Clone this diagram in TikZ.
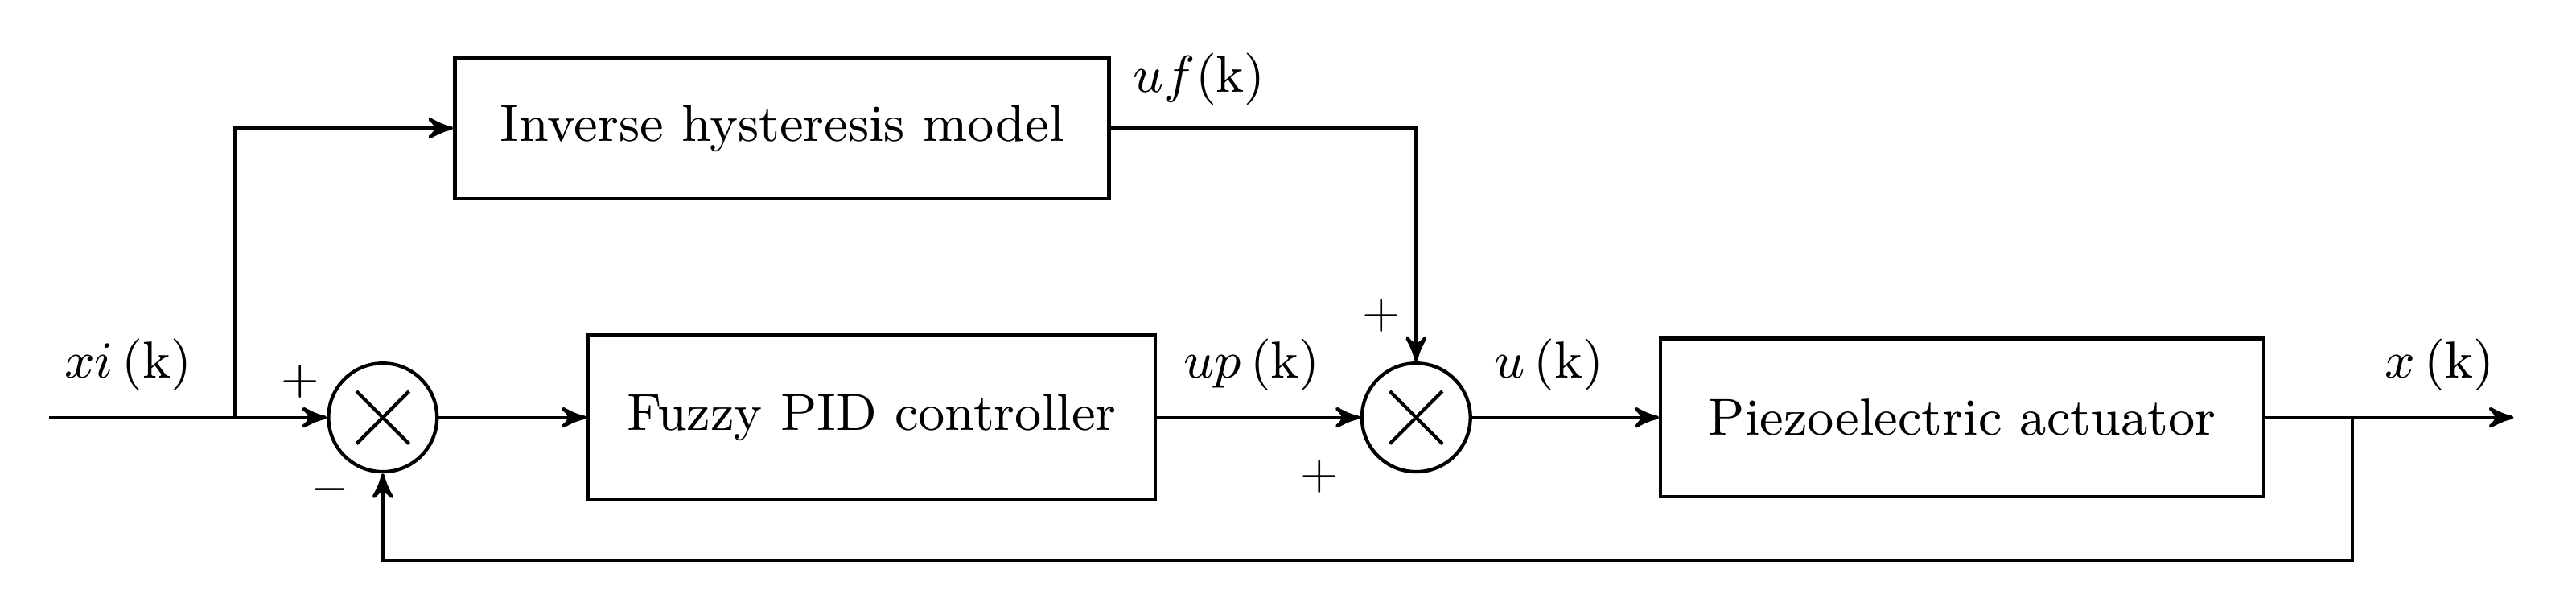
\documentclass[tikz,border=0pt]{standalone}
\usepackage{tikz}
\usetikzlibrary{positioning,shapes}
\usetikzlibrary{arrows}
\usepackage{amsmath}
\begin{document}
\begin{tikzpicture}[x=0.01cm,y=-0.01cm,>=stealth',font=\small,semithick]
	\tikzstyle{block} = [draw,shape=rectangle,fill=white,inner sep=0pt]
	\tikzstyle{sum} = [draw,shape=circle,minimum size=0.66cm,inner sep=0pt]
	\useasboundingbox (0,0) rectangle (1568,374);

	\node[block,minimum width=3.98cm,minimum height=0.86cm] (IHM) at (476,78) {Inverse hysteresis model};
	\node[block,minimum width=3.45cm,minimum height=1.0cm] (FPID) at (530.5,254) {Fuzzy PID controller};
	\node[block,minimum width=3.67cm,minimum height=0.96cm] (PA) at (1194.5,254) {Piezoelectric actuator};

	\node[sum] (S1) at (233,254) {};
	\node[sum] (S2) at (862,254) {};
	\draw ([shift={(-16,-16)}]S1.center) -- ([shift={(16,16)}]S1.center);
	\draw ([shift={(-16,16)}]S1.center) -- ([shift={(16,-16)}]S1.center);
	\draw ([shift={(-16,-16)}]S2.center) -- ([shift={(16,16)}]S2.center);
	\draw ([shift={(-16,16)}]S2.center) -- ([shift={(16,-16)}]S2.center);

	\coordinate (IN) at (30,254);
	\coordinate (B1) at (143,254);
	\coordinate (OUT) at (1530,254);
	\coordinate (B2) at (1432,254);

	\draw (IN) -- (B1);
	\draw [->] (B1) -- (S1);
	\draw [->] (B1) |- (IHM.west);
	\draw [->] (S1) -- (FPID);
	\draw [->] (FPID) -- (S2);
	\draw [->] (S2) -- (PA);
	\draw [->] (PA) -- (OUT);
	\draw [->] (IHM.east) -| (S2.north);
	\draw [->] (B2) |- (233,341) -- (S1.south);

	\node at (78,222) {$xi\,$(k)};
	\node at (730,48) {$uf$(k)};
	\node at (762,222) {$up\,$(k)};
	\node at (943,222) {$u\,$(k)};
	\node at (1485,222) {$x\,$(k)};
	\node at (183,232) {\footnotesize$+$};
	\node at (201,298) {\footnotesize$-$};
	\node at (841,192) {\footnotesize$+$};
	\node at (803,290) {\footnotesize$+$};
\end{tikzpicture}
\end{document}
